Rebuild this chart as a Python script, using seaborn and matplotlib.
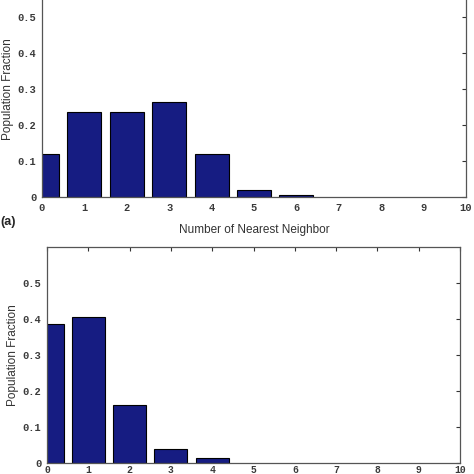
import numpy as np
import pandas as pd
import seaborn as sns
from matplotlib import pyplot as plt

# neighbour counts and population fractions for the two panels
neighbors_a = [0, 1, 2, 3, 4, 5, 6]
fraction_a = [0.12, 0.235, 0.235, 0.265, 0.12, 0.02, 0.005]
neighbors_b = [0, 1, 2, 3, 4]
fraction_b = [0.385, 0.405, 0.16, 0.04, 0.015]
xticks = list(range(0, 11))
yticks = [0, 0.1, 0.2, 0.3, 0.4, 0.5]
ytick_labels = ['0', '0.1', '0.2', '0.3', '0.4', '0.5']

sns.set_style('white')
bar_color = '#161c82'

fig = plt.figure(figsize=(4.74, 4.74), dpi=100)
ax_a = fig.add_axes([0.0886, 0.5844, 0.8944, 0.456])
ax_b = fig.add_axes([0.0992, 0.0232, 0.8713, 0.456])


def draw(ax, xs, ys):
    df = pd.DataFrame({'n': xs, 'f': ys})
    sns.barplot(data=df, x='n', y='f', native_scale=True, width=0.8,
                color=bar_color, saturation=1, edgecolor='black',
                linewidth=0.8, ax=ax)
    ax.set_xlim(0, 10)
    ax.set_ylim(0, 0.6)
    ax.set_xticks(xticks)
    ax.set_xticklabels([str(t) for t in xticks])
    ax.set_yticks(yticks)
    ax.set_yticklabels(ytick_labels)
    ax.tick_params(direction='in', length=3, width=0.8, top=True, right=True,
                   colors='#333333', labelsize=7.5, pad=4)
    for lab in ax.get_xticklabels() + ax.get_yticklabels():
        lab.set_family('Liberation Mono')
        lab.set_color('#3a3a3a')
        lab.set_fontweight('bold')
    for sp in ax.spines.values():
        sp.set_color('#555555')
        sp.set_linewidth(0.9)
    ax.set_ylabel('Population Fraction', fontsize=8.5, family='Liberation Sans',
                  color='#333333', labelpad=3)
    ax.set_xlabel('')


draw(ax_a, neighbors_a, fraction_a)
draw(ax_b, neighbors_b, fraction_b)
# bottom panel labels sit right at the lower edge
ax_b.tick_params(axis='x', pad=1.5, labelsize=7)

ax_a.set_xlabel('Number of Nearest Neighbor', fontsize=8.5,
                family='Liberation Sans', color='#333333', labelpad=8)
fig.text(0.0, 0.532, '(a)', fontsize=9, fontweight='bold',
         family='Liberation Sans', va='center')

fig.savefig('out.png', dpi=100)
